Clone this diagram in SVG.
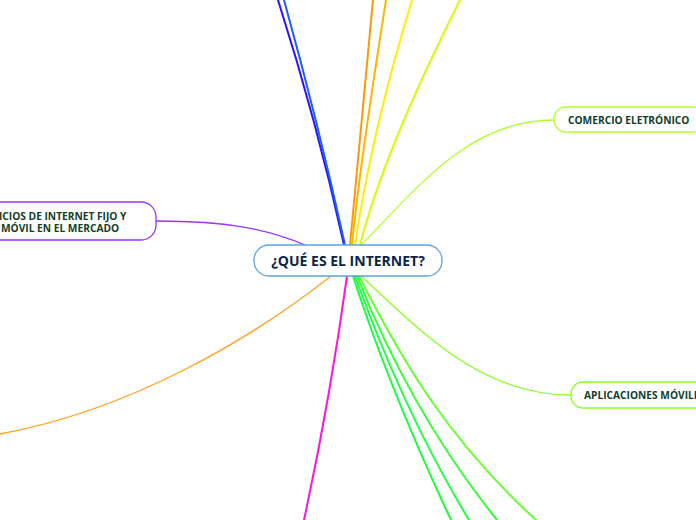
<svg xmlns="http://www.w3.org/2000/svg" width="696" height="520" viewBox="0 0 696 520">
<style>
.c{fill:none;stroke-linecap:round}
.t{stroke-width:2}
.n{stroke-width:1.3}
.box{fill:#ffffff;stroke-width:1.3}
.lbl{font-family:"Open Sans","Noto Sans",sans-serif;font-weight:bold;font-size:10.2px;fill:#123d2b}
.main{font-family:"Open Sans","Noto Sans",sans-serif;font-weight:bold;font-size:14px;fill:#0c2347}
</style>
<rect width="696" height="520" fill="#ffffff"/>
<g id="connectors">
<path class="c t" d="M344 245 Q317 122 278 0" stroke="#2a12ff"/>
<path class="c t" d="M345 245 Q318 122 284 0" stroke="#1a5eff"/>
<path class="c t" d="M350 245 L373 0" stroke="#ff9900"/>
<path class="c t" d="M352 245 Q359 171 386 0" stroke="#ffb400"/>
<path class="c t" d="M355 245 Q371 135 412 0" stroke="#ffee00"/>
<path class="c t" d="M360 245 Q384 151 460 0" stroke="#d2ff00"/>
<path class="c n" d="M361 245 C420 185 470 120 554 120" stroke="#b0ff2a"/>
<path class="c n" d="M156 221 C230 221 270 230 305 245" stroke="#9933ff"/>
<path class="c n" d="M331 276 C250 340 130 410 0 434" stroke="#ffa126"/>
<path class="c t" d="M347 276 Q330 400 304 520" stroke="#ff14dc"/>
<path class="c t" d="M353 276 C379 357 413 439 451 520" stroke="#1aff3c"/>
<path class="c t" d="M355 276 C384 357 420 439 469 520" stroke="#22ff44"/>
<path class="c t" d="M357 276 C389 357 432 439 497 520" stroke="#33ff33"/>
<path class="c t" d="M359 276 C400 357 447 439 536 520" stroke="#66ff33"/>
<path class="c n" d="M361 276 C420 330 480 395 571 395" stroke="#88ff22"/>
</g>
<g id="node-main">
<rect class="box" x="254" y="245" width="188" height="31" rx="15" stroke="#5ba3dc"/>
<text class="main" x="348" y="266" text-anchor="middle">¿QUÉ ES EL INTERNET?</text>
</g>
<g id="node-servicios">
<rect class="box" x="-40" y="202" width="196" height="38" rx="15" stroke="#9933ff"/>
<text class="lbl" x="-1" y="219.5">ICIOS DE INTERNET FIJO Y</text>
<text class="lbl" x="1" y="232">MÓVIL EN EL MERCADO</text>
</g>
<g id="node-comercio">
<rect class="box" x="554" y="107" width="150" height="25" rx="12" stroke="#b0ff2a"/>
<text class="lbl" x="568" y="123.5">COMERCIO ELETRÓNICO</text>
</g>
<g id="node-aplicaciones">
<rect class="box" x="571" y="382" width="150" height="26" rx="12" stroke="#88ff22"/>
<text class="lbl" x="584" y="399">APLICACIONES MÓVILES</text>
</g>
</svg>
